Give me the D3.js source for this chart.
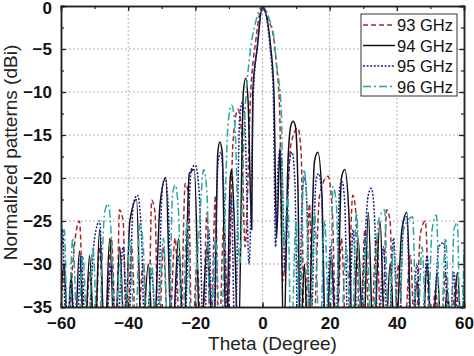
<!DOCTYPE html>
<html><head><meta charset="utf-8">
<script src="https://cdn.jsdelivr.net/npm/d3@7"></script>
<style>body{margin:0;background:#fff}svg{display:block}</style>
</head><body><svg id="c" width="474" height="356"></svg>
<script>
const seriesNames = ["93 GHz","94 GHz","95 GHz","96 GHz"];
const xTicks = [-60,-40,-20,0,20,40,60];
const yTicks = [0,-5,-10,-15,-20,-25,-30,-35];

const s93 = [[-60,-35],[-59,-31],[-58,-40],[-56.5,-30],[-54.5,-25],[-53,-40],[-51.5,-31],[-50,-40],[-48.5,-28],[-47,-40],[-45,-27],[-43.5,-40],[-42.6,-23.7],[-41.5,-25],[-40.5,-40],[-39,-28],[-37.5,-40],[-35.5,-30],[-34,-40],[-33,-22.6],[-32,-24],[-31,-40],[-29.5,-28],[-28,-40],[-26,-27],[-24.5,-40],[-23,-20.6],[-22,-22],[-21,-40],[-19.5,-30],[-18,-40],[-16.5,-24],[-15.5,-40],[-14,-22],[-13,-40],[-11.5,-25],[-10.3,-36],[-8.8,-16],[-7.3,-12],[-6.2,-15],[-5.2,-28],[-3.5,-10],[-2,-4],[0,0],[1.5,-1.5],[3.1,-3.2],[4.2,-7],[5.1,-12],[6,-32],[8.5,-16],[10.5,-14.2],[11.5,-17],[12.5,-40],[14,-23],[15,-40],[17,-22],[19.5,-19.8],[20.8,-24],[22,-40],[23.5,-27],[25,-40],[26.9,-22],[28,-25],[29,-40],[30.5,-26],[32,-40],[34,-27],[35.5,-40],[37,-23.7],[38,-25],[39,-40],[40.5,-30],[42,-40],[44,-29],[45.5,-40],[47,-26.5],[48.5,-25],[50,-40],[51.5,-33],[53,-40],[54.5,-31],[56,-40],[57.5,-32],[59,-40],[60,-37]];

const s94 = [[-60,-33],[-59,-30],[-58,-40],[-57,-31],[-56,-40],[-54.5,-28.5],[-53,-40],[-51.5,-29],[-50,-40],[-48.5,-26],[-47,-40],[-45.5,-27],[-44,-40],[-42.5,-28],[-41,-40],[-39.5,-25],[-37.5,-22.5],[-36,-40],[-34,-30],[-32.5,-40],[-30.5,-23],[-28.8,-20],[-27,-40],[-25,-27],[-23.5,-40],[-21.8,-19.5],[-20.3,-19],[-18.5,-40],[-16.5,-28],[-14.5,-40],[-13.3,-17],[-12.7,-15.8],[-12,-17],[-10.8,-40],[-9.6,-20],[-9.2,-19],[-8.5,-24],[-7.2,-40],[-5.7,-10],[-5,-8.4],[-4.3,-11],[-3.2,-26],[-2.9,-10],[-1.6,-5],[0,0],[2.5,-5],[3.4,-10],[4.2,-27],[5.2,-16.5],[6.3,-40],[7.6,-18],[8.4,-14],[9.1,-13.4],[9.8,-14],[10.6,-22],[11.2,-40],[12.5,-30],[13.5,-40],[15.5,-18],[16.5,-17],[17.7,-22],[18.8,-40],[20.5,-29],[22,-40],[23.5,-20],[24.5,-19],[25.7,-24],[26.8,-40],[28.5,-27],[30,-40],[31.5,-24],[33,-40],[35,-25],[36.5,-40],[38,-30],[39.5,-40],[41.5,-26],[43,-24],[44.5,-40],[46,-32],[47.5,-40],[49,-30],[50.5,-40],[52,-31],[53.5,-40],[55,-33],[56.5,-40],[58,-31],[59.5,-40],[60,-36]];

const s95 = [[-60,-30],[-59.5,-26],[-58.5,-40],[-57,-32],[-55.5,-40],[-54,-29],[-52.5,-40],[-50,-27],[-48.5,-25],[-47,-40],[-45,-30],[-43.5,-40],[-41.5,-28],[-40,-40],[-38.5,-23],[-37.2,-22],[-36,-27],[-35,-40],[-33,-31],[-31.5,-40],[-29.8,-21],[-29,-20],[-28,-24],[-26.8,-40],[-25,-29],[-23.5,-40],[-21.2,-19],[-20,-18.5],[-18.8,-22],[-17.6,-40],[-16,-26],[-14.8,-40],[-13.2,-18],[-12.4,-17],[-11.5,-22],[-10.5,-40],[-9.3,-22],[-8.2,-40],[-6.8,-13],[-6,-11.2],[-5.2,-14],[-4,-30],[-2.7,-10],[-1.5,-4.5],[0,0],[2.3,-5],[3.2,-10],[3.9,-28],[4.6,-19],[5.2,-16.7],[5.8,-19],[6.7,-31],[8,-18],[8.8,-17],[9.6,-20],[10.6,-40],[12,-21],[12.6,-20],[13.3,-24],[14.2,-40],[16,-20],[16.8,-19.5],[17.6,-22],[18.5,-40],[20.3,-28],[21.8,-40],[23,-21],[23.7,-20.4],[24.5,-23],[25.5,-40],[27,-26],[28.5,-40],[31.5,-22],[32.4,-21.2],[33.3,-24],[34.5,-40],[36,-28],[37.5,-40],[39,-27],[40.5,-40],[42,-25],[43,-24.5],[44.2,-40],[46,-30],[47.3,-40],[49,-29],[50.5,-40],[52.5,-28],[54,-27.5],[55.5,-40],[57,-31],[58.5,-40],[60,-33]];

const s96 = [[-60,-28],[-59,-26],[-58,-40],[-56.5,-27],[-55,-40],[-53.5,-29],[-52,-40],[-50.5,-28],[-49,-40],[-47,-24],[-46,-23],[-45,-27],[-44,-40],[-42.5,-30],[-41,-40],[-39.5,-27],[-38,-40],[-36.5,-25.3],[-35.5,-28],[-34.5,-40],[-33,-30],[-31.5,-40],[-29.5,-27],[-28,-40],[-26.8,-22],[-26,-20.8],[-25,-24],[-24,-40],[-22.5,-25],[-21,-40],[-19,-27],[-17.5,-19],[-16.5,-22],[-15.5,-40],[-14,-27],[-12.5,-40],[-10.3,-14],[-9.2,-11.5],[-8.2,-14],[-6.8,-30],[-5.3,-13],[-3.8,-5.8],[-2,-1.8],[0,0],[2,-1.5],[3.5,-4],[4.1,-6.5],[5.6,-12],[6.3,-28],[7.5,-22],[8.5,-40],[10,-25],[11,-40],[12.3,-19],[13,-21],[14,-40],[15.5,-24],[17,-40],[18.5,-25],[20,-40],[21,-21],[22,-23],[23,-40],[25,-28],[26.5,-40],[28,-24],[29.5,-40],[31,-27],[32.5,-40],[34.5,-25],[36.4,-23.7],[37.5,-40],[39,-28],[40.5,-40],[42,-26],[44.7,-24.5],[46,-40],[47.5,-28],[49,-40],[50.5,-26],[51.8,-24.3],[53,-40],[54.5,-27],[56,-40],[57,-26],[58,-25.2],[59,-40],[60,-28]];

const seriesData = [s93, s94, s95, s96];
const colors = ["#a8282e","#111111","#1c1c8a","#2aa7a0"];
const dashes = ["5,3","none","2,1.6","8,3,2,3"];

const svg = d3.select("#c");
const L=61, R=464, T=6, B=307;
const x = d3.scaleLinear().domain([-60,60]).range([L,R]);
const y = d3.scaleLinear().domain([-35,0]).range([B,T]);
const FONT = "Liberation Sans, Arial, sans-serif";

svg.append("defs").append("clipPath").attr("id","clip").append("rect")
  .attr("x",L).attr("y",T).attr("width",R-L).attr("height",B-T);

// grid
const g = svg.append("g");
g.selectAll(".gx").data(xTicks.slice(1,-1)).enter().append("line")
  .attr("x1",d=>x(d)).attr("x2",d=>x(d)).attr("y1",T).attr("y2",B)
  .attr("stroke","#9a9a9a").attr("stroke-width",1).attr("stroke-dasharray","1.5,2.5");
g.selectAll(".gy").data(yTicks.slice(1,-1)).enter().append("line")
  .attr("y1",d=>y(d)).attr("y2",d=>y(d)).attr("x1",L).attr("x2",R)
  .attr("stroke","#9a9a9a").attr("stroke-width",1).attr("stroke-dasharray","1.5,2.5");

// lines
const line = d3.line().x(d=>x(d[0])).y(d=>y(d[1])).curve(d3.curveMonotoneX);
const lines = svg.append("g").attr("clip-path","url(#clip)");
seriesData.forEach((s,i)=>{
  lines.append("path").attr("d",line(s)).attr("fill","none")
    .attr("stroke",colors[i]).attr("stroke-width",1.5)
    .attr("stroke-dasharray",dashes[i]);
});

// axes (ticks inward on all sides)
const xMinor = d3.range(-60,61,10), yMinor = d3.range(-35,0.1,2.5);
function ax(axis, tr){ return svg.append("g").attr("transform",tr).call(axis); }
ax(d3.axisBottom(x).tickValues(xTicks).tickSize(-5).tickPadding(10).tickFormat(d3.format("d")), `translate(0,${B})`);
ax(d3.axisBottom(x).tickValues(xMinor).tickSize(-3).tickFormat(""), `translate(0,${B})`);
ax(d3.axisTop(x).tickValues(xTicks).tickSize(-5).tickFormat(""), `translate(0,${T})`);
ax(d3.axisTop(x).tickValues(xMinor).tickSize(-3).tickFormat(""), `translate(0,${T})`);
const ly = ax(d3.axisLeft(y).tickValues(yTicks).tickSize(-5).tickPadding(9).tickFormat(d3.format("d")), `translate(${L},0)`);
ax(d3.axisLeft(y).tickValues(yMinor).tickSize(-3).tickFormat(""), `translate(${L},0)`);
ax(d3.axisRight(y).tickValues(yTicks).tickSize(-5).tickFormat(""), `translate(${R},0)`);
ax(d3.axisRight(y).tickValues(yMinor).tickSize(-3).tickFormat(""), `translate(${R},0)`);
svg.selectAll(".domain").attr("stroke","#222").attr("stroke-width",1.5);
svg.selectAll(".tick line").attr("stroke","#222").attr("stroke-width",1.2);
svg.selectAll(".tick text").attr("font-family",FONT)
  .attr("font-size",17).attr("font-weight","bold").attr("fill","#111");
// keep the top "0" label inside the picture
ly.selectAll(".tick text").filter(d=>d===0).attr("dy","0.42em");

// axis titles
svg.append("text").attr("x",(L+R)/2+10).attr("y",350).attr("text-anchor","middle")
  .attr("font-family",FONT).attr("font-size",19).attr("fill","#222")
  .text("Theta (Degree)");
svg.append("text").attr("transform",`translate(17,${(T+B)/2-4}) rotate(-90)`).attr("text-anchor","middle")
  .attr("font-family",FONT).attr("font-size",19).attr("fill","#222")
  .text("Normalized patterns (dBi)");

// legend
const lg = svg.append("g");
lg.append("rect").attr("x",361).attr("y",14).attr("width",96).attr("height",82)
  .attr("fill","#fff").attr("stroke","#333").attr("stroke-width",1);
seriesNames.forEach((n,i)=>{
  const yy = 25 + i*20.5;
  lg.append("line").attr("x1",363).attr("x2",395).attr("y1",yy).attr("y2",yy)
    .attr("stroke",colors[i]).attr("stroke-width",1.5).attr("stroke-dasharray",dashes[i]);
  lg.append("text").attr("x",397).attr("y",yy+6).attr("font-family",FONT)
    .attr("font-size",16.5).attr("fill","#111").text(n);
});
</script></body></html>
